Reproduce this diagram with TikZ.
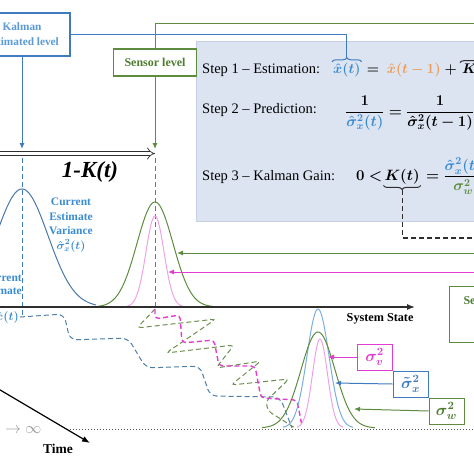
\RequirePackage{fix-cm}
\documentclass[tikz,border=0pt]{standalone}
\usepackage{amsmath}
\usepackage{bm}
\usepackage[no-math]{fontspec}
\setmainfont{Liberation Serif}
\usepackage{tikz}
\usetikzlibrary{positioning,arrows.meta,decorations.pathreplacing}
\definecolor{KBlue}{HTML}{3F7BBF}
\definecolor{KLight}{HTML}{5A9AD6}
\definecolor{KText}{HTML}{3A8CD2}
\definecolor{KCurve}{HTML}{4A78A8}
\definecolor{KDash}{HTML}{4F7FA8}
\definecolor{SGreen}{HTML}{5E8C3E}
\definecolor{SDark}{HTML}{4E7D32}
\definecolor{GDash}{HTML}{6B8E4E}
\definecolor{Mag}{HTML}{E23CD0}
\definecolor{Pinky}{HTML}{F0A2E6}
\definecolor{Orange}{HTML}{EE9A55}
\definecolor{Panel}{HTML}{DCE4F2}
\definecolor{PanelEdge}{HTML}{C6D0E2}
\definecolor{Ink}{HTML}{2E2E2E}

\begin{document}
\begin{tikzpicture}[x=1pt,y=-1pt,
    kbox/.style={draw=KBlue,line width=1.1pt,fill=white,text=KLight,align=center,
                 font=\fontsize{11.3}{15}\selectfont\bfseries},
    sbox/.style={draw=SGreen,line width=1.1pt,fill=white,text=SDark,align=center,
                 font=\fontsize{12}{14}\selectfont\bfseries},
    steptxt/.style={font=\fontsize{14.5}{17}\selectfont,anchor=base west,inner sep=1pt},
    eq/.style={font=\fontsize{15}{17}\selectfont,anchor=base west,inner sep=1pt},
    sig/.style={draw,line width=1pt,fill=white,minimum width=35pt,minimum height=26pt,
                font=\fontsize{16}{18}\selectfont,inner sep=0pt},
    curve/.style={line width=1pt},
    traj/.style={line width=1pt,dash pattern=on 5pt off 3pt,rounded corners=7pt},
    tip/.style={-{Latex[length=6pt,width=5pt]}},
    brc/.style={decorate,decoration={brace,amplitude=4pt},line width=1pt}
  ]
  \useasboundingbox (0,0) rectangle (474,474);
  \clip (0,0) rectangle (474,474);

  % panel with the three steps
  \node[draw=PanelEdge,fill=Panel,minimum width=300pt,minimum height=180pt,anchor=north west] (pnl) at (196,41) {};
  \node[steptxt] (s1) at (201,73.5) {Step 1 -- Estimation:};
  \node[steptxt] (s2) at (201,113.5) {Step 2 -- Prediction:};
  \node[steptxt] (s3) at (201,180.5) {Step 3 -- Kalman Gain:};

  \node[eq,text=KText,font=\fontsize{14}{17}\selectfont] (xh) at (332,73.5) {$\bm{\hat{x}(t)}$};
  \node[eq,font=\fontsize{14}{17}\selectfont] (eq1) at (xh.base east) {$\;\bm{=}\;{\color{Orange}\bm{\hat{x}(t-1)}}\;\bm{+}\;$};
  \node[eq,font=\fontsize{14}{17}\selectfont,inner sep=0pt] (k1) at (eq1.base east) {$\bm{K}$};
  \node[eq] (pr) at (344,116) {$\dfrac{\bm{1}}{\color{KText}\bm{\hat{\sigma}^2_x(t)}}\bm{=}\dfrac{\bm{1}}{\bm{\hat{\sigma}^2_x(t-1)}}$};
  \node[eq] (z) at (355,180.5) {$\bm{0<}$};
  \node[eq] (kt) at (z.base east) {$\bm{K(t)}$};
  \node[eq] (eq3) at (kt.base east) {$\;\bm{=}\dfrac{\color{KText}\bm{\hat{\sigma}^2_x(t)}}{\color{SGreen}\bm{\sigma^2_w}}$};

  \draw[brc,KBlue] (xh.north west) -- (xh.north east);
  \draw[brc,Ink] ([xshift=-2pt,yshift=1pt]k1.north west) -- ++(40,0);
  \draw[brc,Ink,decoration={mirror}] (kt.south west) -- (kt.south east);
  \coordinate (xtip) at ([yshift=4pt]xh.north);
  \coordinate (ktip) at ([yshift=-5pt]kt.south);
  \coordinate (kend) at (480,238);
  \draw[Ink,line width=1.2pt,dash pattern=on 5pt off 3pt] (ktip) |- (kend);

  % level boxes
  \node[kbox,minimum width=96pt,minimum height=43pt] (kal) at (22,34.5) {Kalman\\Estimated level};
  \node[sbox,minimum width=83pt,minimum height=27pt] (sen) at (155,62.5) {Sensor level};
  \coordinate (gtr) at (480,23);
  \coordinate (ktop) at (22,149);
  \coordinate (stop) at (155,149);
  \draw[KBlue,line width=1pt] (kal.east) -| (xtip);
  \draw[SGreen,line width=1pt] (sen.north) |- (gtr);
  \draw[KBlue,line width=1pt,tip] (kal.south) -- (ktop);
  \draw[SGreen,line width=1pt,tip] (sen.south) -- (stop);

  % 1-K(t)
  \coordinate (d0) at (-10,153.5);
  \coordinate (d1) at (155,153.5);
  \draw[Ink,line width=0.7pt,double=white,double distance=3.5pt,-{Implies}] (d0) -- (d1);
  \node[font=\fontsize{23}{25}\selectfont\bfseries\itshape] (omk) at (90,172) {1-K(t)};

  % current state
  \draw[KBlue,line width=1pt,dash pattern=on 5pt off 3pt] (22,158) -- (22,316);
  \draw[SGreen,line width=1pt,dash pattern=on 5pt off 3pt] (155,158) -- (155,307);
  \draw[curve,KCurve] plot[domain=-10:96,samples=90] (\x,{307-118*exp(-((\x-22)^2)/1352)});
  \draw[curve,SGreen] plot[domain=97:213,samples=90] (\x,{307-105*exp(-((\x-155)^2)/648)});
  \draw[curve,Pinky] plot[domain=127:183,samples=70] (\x,{307-91*exp(-((\x-155)^2)/162)});
  \node[text=KText,align=center,font=\fontsize{11.5}{14.5}\selectfont\bfseries] (cev) at (71,225)
    {Current\\Estimate\\Variance\\$\bm{\hat{\sigma}^2_x(t)}$};
  \node[text=KText,align=right,anchor=east,inner sep=1pt,font=\fontsize{11.5}{13}\selectfont\bfseries] (cur) at (23,284) {Current\\Estimate};
  \node[text=KText,anchor=east,inner sep=1pt,font=\fontsize{12}{13}\selectfont] (xl) at (20,317) {$\bm{\hat{x}(t)}$};

  % inputs from the right
  \coordinate (gsrc) at (480,253);
  \coordinate (gtip) at (177,253);
  \coordinate (msrc) at (480,272);
  \coordinate (mtip) at (168,272);
  \draw[SGreen,line width=1pt,tip] (gsrc) -- (gtip);
  \draw[Mag,line width=1pt,tip] (msrc) -- (mtip);
  \node[draw=SGreen,line width=1.1pt,fill=white,minimum width=60pt,minimum height=56pt,anchor=north west] (snb) at (449,286) {};
  \node[text=SDark,anchor=west,font=\fontsize{12}{14}\selectfont\bfseries] (snt) at (460,301) {Sensor};

  % system state axis
  \coordinate (ax0) at (-5,307);
  \coordinate (ax1) at (415,307);
  \draw[Ink,line width=1.3pt,-{Latex[length=8pt,width=6pt]}] (ax0) -- (ax1);
  \node[font=\fontsize{12.2}{14}\selectfont\bfseries,below left=3pt and -2pt of ax1] (sys) {System State};

  % trajectories over time
  \draw[traj,KDash] (xl.east) -- (64,314) -- (70,340) -- (128,338) -- (146,368) -- (200,366) -- (210,396) -- (280,397) -- (292,428);
  \draw[traj,GDash,rounded corners=4pt] (155,309) -- (137,328) -- (216,319) -- (166,353) -- (234,345) -- (216,368) -- (261,361) -- (231,385) -- (289,379) -- (266,401) -- (268,411) -- (295,428);
  \draw[traj,Mag,line width=1.4pt,rounded corners=4pt] (155,309) -- (155,319) -- (180,315) -- (182,343) -- (214,340) -- (219,366) -- (255,366) -- (261,398) -- (297,400) -- (302,426);

  % time axis
  \coordinate (t0) at (-10,384);
  \coordinate (t1) at (90,443);
  \draw[black,line width=1.2pt,-{Latex[length=8pt,width=6pt]}] (t0) -- (t1);
  \node[font=\fontsize{13.5}{15}\selectfont\bfseries] (time) at (58,449) {Time};
  \node[text=gray!80,anchor=east,font=\fontsize{16}{18}\selectfont] (inf) at (45,429) {$t\to\infty$};
  \coordinate (e0) at (70,429);
  \coordinate (e1) at (480,429);
  \draw[Ink!80,line width=1pt,dotted] (e0) -- (e1);

  % converged state
  \draw[curve,KLight!80] plot[domain=283:353,samples=80] (\x,{428-119*exp(-((\x-318)^2)/242)});
  \draw[curve,SGreen] plot[domain=262:375,samples=80] (\x,{428-96*exp(-((\x-318)^2)/578)});
  \draw[curve,Pinky] plot[domain=297:343,samples=70] (\x,{428-89*exp(-((\x-320)^2)/112.5)});

  \node[sig,draw=Mag,text=Mag] (sv) at (374.5,357) {$\bm{\sigma^2_v}$};
  \node[sig,draw=KBlue,text=KBlue,below right=0pt of sv] (sx) {$\bm{\tilde{\sigma}^2_x}$};
  \node[sig,draw=SGreen,text=SDark,below right=0pt of sx] (sw) {$\bm{\sigma^2_w}$};
  \coordinate (vtip) at (328,357);
  \coordinate (xtip2) at (335,383);
  \coordinate (wtip) at (354,409);
  \draw[Mag,line width=1pt,tip] (sv.west) -- (vtip);
  \draw[KBlue,line width=1pt,tip] (sx.west) -- (xtip2);
  \draw[SGreen,line width=1pt,tip] (sw.west) -- (wtip);
\end{tikzpicture}
\end{document}
